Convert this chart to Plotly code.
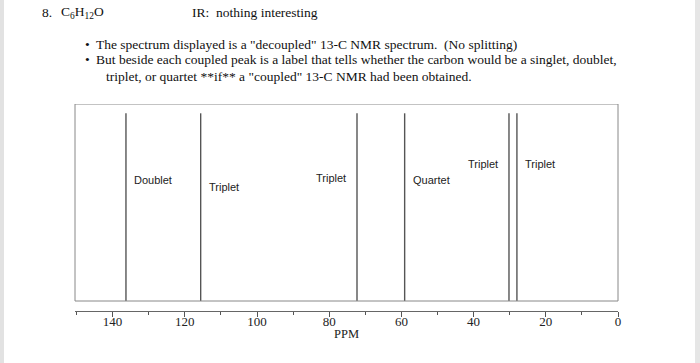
import plotly.graph_objects as go

# ---- data ----
peak_ppm = [136.3, 115.6, 72.3, 59.1, 30.2, 28.0]
peak_height = [1, 1, 1, 1, 1, 1]
peak_labels = ["Doublet", "Triplet", "Triplet", "Quartet", "Triplet", "Triplet"]
label_height = [0.645, 0.607, 0.655, 0.645, 0.730, 0.730]
label_side = ["left", "left", "right", "left", "right", "left"]
tick_vals = [0, 20, 40, 60, 80, 100, 120, 140]
tick_text = ["0", "20", "40", "60", "80", "100", "120", "140"]

W, H = 700, 363
L, R, T, B = 75, 82, 104, 52
PW, PH = W - L - R, H - T - B


def xp(px):
    return (px - L) / PW


def yp(py):
    return (H - B - py) / PH


xs, ys = [], []
for p, h in zip(peak_ppm, peak_height):
    xs += [p, p, None]
    ys += [0, h, None]

fig = go.Figure()
fig.add_trace(go.Scatter(x=xs, y=ys, mode="lines",
                         line=dict(color="#555555", width=1.4),
                         hoverinfo="skip", showlegend=False))

annotations = []
for p, lab, ly, side in zip(peak_ppm, peak_labels, label_height, label_side):
    annotations.append(dict(
        x=p, y=ly, xref="x", yref="y", text=lab, showarrow=False,
        xanchor=side, yanchor="middle",
        xshift=6 if side == "left" else -9,
        font=dict(family="Liberation Sans", size=11, color="#222222")))

serif = dict(family="Liberation Serif", size=13.5, color="#111111")
header = [
    (40, 12, "8."),
    (59, 12, "C<sub>6</sub>H<sub>12</sub>O"),
    (190, 12, "IR:  nothing interesting"),
    (83, 44, "•"),
    (94, 44, "The spectrum displayed is a \"decoupled\" 13-C NMR spectrum.  (No splitting)"),
    (83, 60, "•"),
    (94, 60, "But beside each coupled peak is a label that tells whether the carbon would be a singlet, doublet,"),
    (104, 76, "triplet, or quartet **if** a \"coupled\" 13-C NMR had been obtained."),
]
for x0, y0, t in header:
    annotations.append(dict(x=xp(x0), y=yp(y0), xref="paper", yref="paper",
                            text=t, showarrow=False, xanchor="left",
                            yanchor="middle", font=serif))

annotations.append(dict(x=xp(346.5), y=yp(334), xref="paper", yref="paper",
                        text="PPM", showarrow=False, xanchor="center",
                        yanchor="middle",
                        font=dict(family="Liberation Serif", size=12.5, color="#222222")))

y_lo = -10 / 187.7
y_hi = (301 - 104) / 187.7

shapes = [
    dict(type="rect", xref="paper", yref="y", x0=0, x1=1, y0=0, y1=y_hi,
         line=dict(color="#888888", width=1), fillcolor="rgba(0,0,0,0)"),
    dict(type="rect", xref="paper", yref="paper", x0=xp(0), x1=xp(4),
         y0=yp(H), y1=yp(0), line=dict(width=0), fillcolor="#e2e2e2", layer="below"),
    dict(type="rect", xref="paper", yref="paper", x0=xp(695), x1=xp(700),
         y0=yp(H), y1=yp(0), line=dict(width=0), fillcolor="#e6e6e6", layer="below"),
]

fig.update_layout(
    width=W, height=H,
    margin=dict(l=L, r=R, t=T, b=B),
    paper_bgcolor="white", plot_bgcolor="white",
    annotations=annotations, shapes=shapes,
    xaxis=dict(range=[PW / 3.61, 0], tickvals=tick_vals, ticktext=tick_text,
               ticks="outside", ticklen=5, tickcolor="#555555", tickwidth=1,
               showline=True, linecolor="#666666", linewidth=1,
               showgrid=False, zeroline=False,
               minor=dict(dtick=10, tick0=0, ticks="outside", ticklen=3,
                          tickcolor="#555555", showgrid=False),
               tickfont=dict(family="Liberation Serif", size=13, color="#222222"),
               ticklabelstandoff=-7,
               fixedrange=True),
    yaxis=dict(range=[y_lo, y_hi], visible=False, showgrid=False,
               zeroline=False, fixedrange=True),
)

fig.write_html("out.html", config={"displayModeBar": False},
               post_script="document.body.style.margin='0';")
